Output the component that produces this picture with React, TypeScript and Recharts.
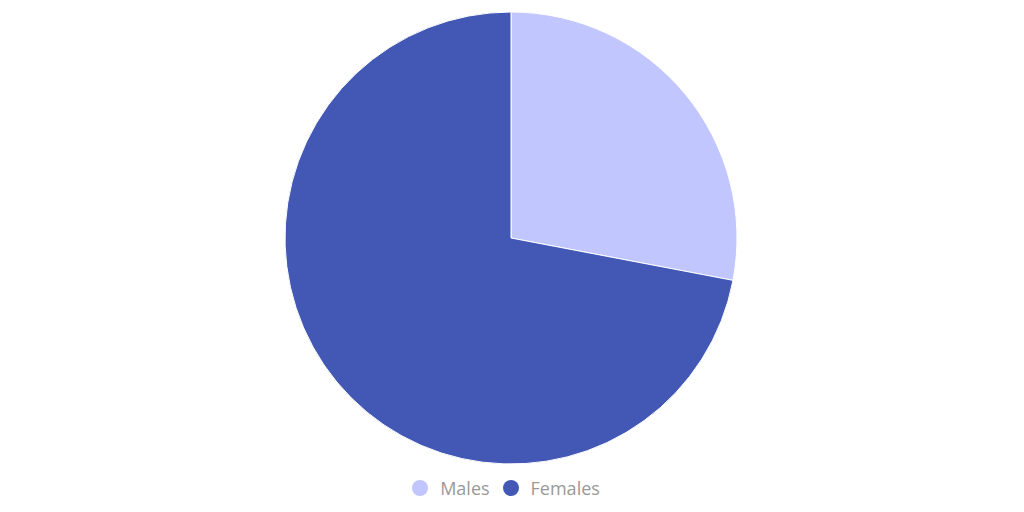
import * as React from "react";
import { Cell, Legend, Pie, PieChart } from "recharts";

const labels = ["Males", "Females"];
const values = [28, 72];
const colors = ["#C1C6FF", "#4358B5"];

const data = labels.map((name, i) => ({ name, value: values[i] }));

function renderLegend(): React.ReactElement {
  return (
    <div
      style={{
        display: "flex",
        justifyContent: "center",
        alignItems: "center",
        paddingRight: 12,
        fontFamily: "'Open Sans', sans-serif",
        fontSize: 18,
        color: "#999999",
      }}
    >
      {labels.map((name, i) => (
        <div key={name} style={{ display: "flex", alignItems: "center", marginRight: i === 0 ? 13 : 0 }}>
          <svg width={16} height={16} style={{ marginRight: 12 }}>
            <circle cx={8} cy={8} r={8} fill={colors[i]} />
          </svg>
          <span>{name}</span>
        </div>
      ))}
    </div>
  );
}

export default function App() {
  return (
    <div style={{ position: "absolute", left: 0, top: 0, width: 1024, height: 512, background: "#fff" }}>
      <PieChart width={1024} height={512} margin={{ top: 0, right: 0, bottom: 0, left: 0 }}>
        <Legend
          verticalAlign="bottom"
          content={renderLegend}
          wrapperStyle={{ bottom: 12 }}
        />
        <Pie
          data={data}
          dataKey="value"
          nameKey="name"
          cx={511}
          cy={238}
          outerRadius={226}
          startAngle={90}
          endAngle={-270}
          stroke="#ffffff"
          strokeWidth={1}
          labelLine={false}
          isAnimationActive={false}
        >
          {data.map((d, i) => (
            <Cell key={d.name} fill={colors[i]} />
          ))}
        </Pie>
      </PieChart>
    </div>
  );
}
